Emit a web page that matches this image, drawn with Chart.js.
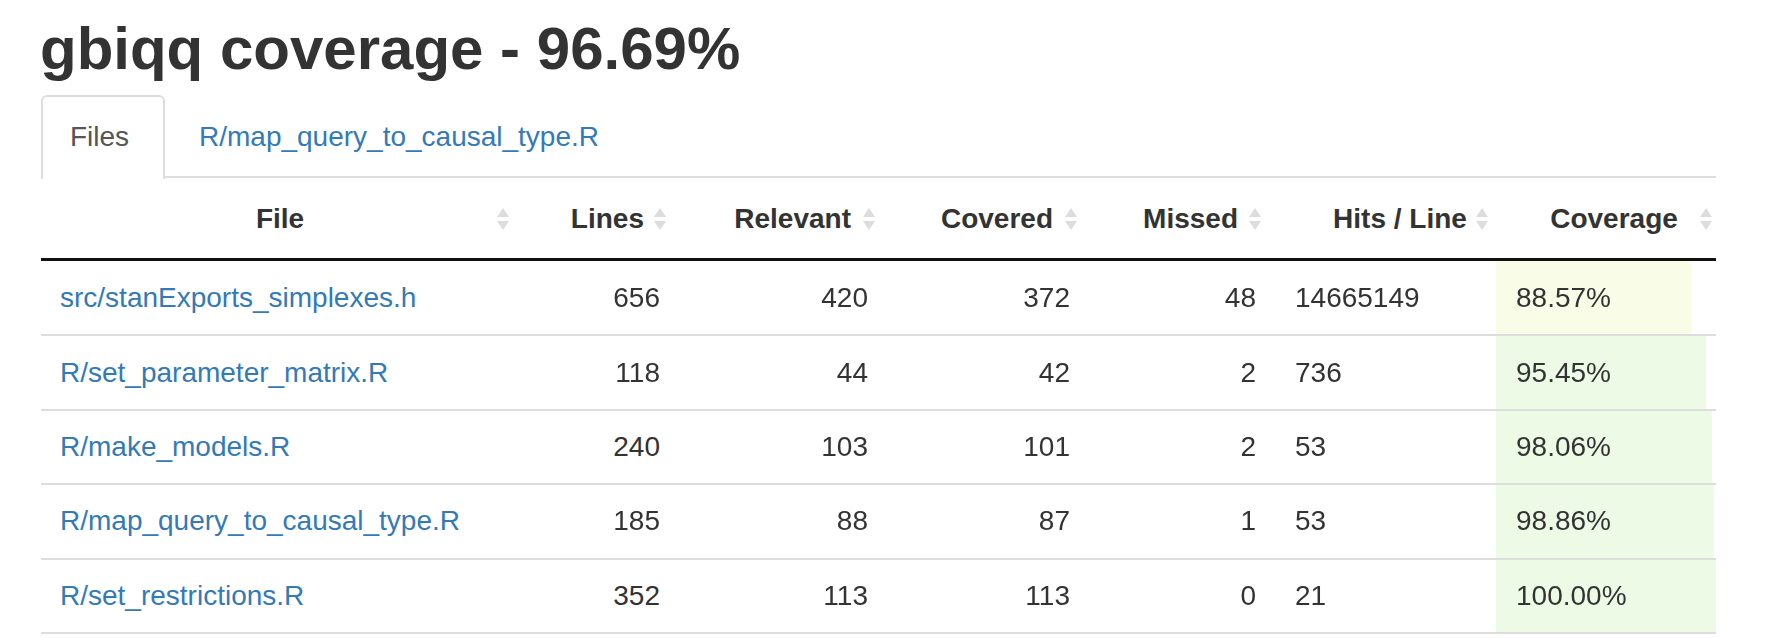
<!DOCTYPE html>
<html>
<head>
<meta charset="utf-8">
<script src="https://cdn.jsdelivr.net/npm/chart.js@4"></script>
<style>
body { margin:0; width:1770px; height:638px; background:#fff; font-family:"Liberation Sans", Arial, sans-serif; color:#333; position:relative; overflow:hidden; }
.t { position:absolute; white-space:nowrap; font-size:28px; line-height:32px; }
.h { font-weight:bold; }
.a { color:#337ab7; }
.hl { position:absolute; height:2px; background:#ddd; z-index:3; }
.sort { position:absolute; width:0; height:0; }
#wrap { position:absolute; left:1496px; top:261px; width:220px; height:372px; z-index:1; }
</style>
</head>
<body>
<div class="t h" style="left:40px;top:14px;font-size:60px;line-height:70px;">gbiqq coverage - 96.69%</div>
<div style="position:absolute;left:41px;top:95px;width:120px;height:82px;border:2px solid #ddd;border-bottom:none;border-radius:6px 6px 0 0;background:#fff;z-index:4;"></div>
<div class="t" style="left:70px;top:121px;font-size:28px;color:#555;z-index:5;">Files</div>
<div class="t a" style="left:199px;top:121px;font-size:28px;">R/map_query_to_causal_type.R</div>
<div class="hl" style="left:41px;top:176px;width:1675px;"></div>
<div class="hl" style="left:41px;top:258px;width:1675px;height:3px;background:#111;"></div>
<div id="wrap"><canvas id="cov"></canvas></div>
<div id="tbl"></div>
<script>
var files = ['src/stanExports_simplexes.h', 'R/set_parameter_matrix.R', 'R/make_models.R', 'R/map_query_to_causal_type.R', 'R/set_restrictions.R'];
var lines = [656, 118, 240, 185, 352];
var relevant = [420, 44, 103, 88, 113];
var covered = [372, 42, 101, 87, 113];
var missed = [48, 2, 2, 1, 0];
var hits = [14665149, 736, 53, 53, 21];
var coverage = [88.57, 95.45, 98.06, 98.86, 100.00];

var tbl = document.getElementById('tbl');
function put(txt, x, y, cls, align) {
    var d = document.createElement('div');
    d.className = 't ' + (cls || '');
    d.textContent = txt;
    d.style.top = (y - 16) + 'px';
    if (align === 'right') { d.style.right = (1770 - x) + 'px'; }
    else if (align === 'center') { d.style.left = (x - 200) + 'px'; d.style.width = '400px'; d.style.textAlign = 'center'; }
    else { d.style.left = x + 'px'; }
    d.style.zIndex = 4;
    tbl.appendChild(d);
}
function sortIcon(x, y) {
    var up = document.createElement('div');
    up.className = 'sort';
    up.style.cssText += 'left:' + (x - 6) + 'px;top:' + (y - 11) + 'px;border-left:6px solid transparent;border-right:6px solid transparent;border-bottom:9px solid #ddd;';
    var dn = document.createElement('div');
    dn.className = 'sort';
    dn.style.cssText += 'left:' + (x - 6) + 'px;top:' + (y + 2) + 'px;border-left:6px solid transparent;border-right:6px solid transparent;border-top:9px solid #ddd;';
    tbl.appendChild(up); tbl.appendChild(dn);
}

var hy = 219;
put('File', 280, hy, 'h', 'center'); sortIcon(503, hy);
put('Lines', 644, hy, 'h', 'right'); sortIcon(660, hy);
put('Relevant', 851, hy, 'h', 'right'); sortIcon(869, hy);
put('Covered', 1053, hy, 'h', 'right'); sortIcon(1071, hy);
put('Missed', 1238, hy, 'h', 'right'); sortIcon(1255, hy);
put('Hits / Line', 1400, hy, 'h', 'center'); sortIcon(1482, hy);
put('Coverage', 1614, hy, 'h', 'center'); sortIcon(1706, hy);

var top0 = 261, rowH = 74.4;
for (var i = 0; i < files.length; i++) {
    var cy = top0 + rowH * (i + 0.5);
    put(files[i], 60, cy, 'a');
    put(String(lines[i]), 660, cy, '', 'right');
    put(String(relevant[i]), 868, cy, '', 'right');
    put(String(covered[i]), 1070, cy, '', 'right');
    put(String(missed[i]), 1256, cy, '', 'right');
    put(String(hits[i]), 1295, cy);
    put(coverage[i].toFixed(2) + '%', 1516, cy);
    var l = document.createElement('div');
    l.className = 'hl';
    l.style.left = '41px'; l.style.width = '1675px';
    l.style.top = Math.round(top0 + rowH * (i + 1) - 1) + 'px';
    tbl.appendChild(l);
}

new Chart(document.getElementById('cov'), {
    type: 'bar',
    data: {
        labels: files,
        datasets: [{
            data: coverage,
            backgroundColor: coverage.map(function (v) { return v < 90 ? '#f9fde8' : '#edfbe6'; }),
            borderWidth: 0,
            barPercentage: 1,
            categoryPercentage: 1
        }]
    },
    options: {
        indexAxis: 'y',
        responsive: true,
        maintainAspectRatio: false,
        animation: false,
        layout: { padding: 0 },
        plugins: { legend: { display: false }, tooltip: { enabled: false } },
        scales: {
            x: { min: 0, max: 100, display: false },
            y: { display: false }
        }
    }
});
</script>
</body>
</html>
